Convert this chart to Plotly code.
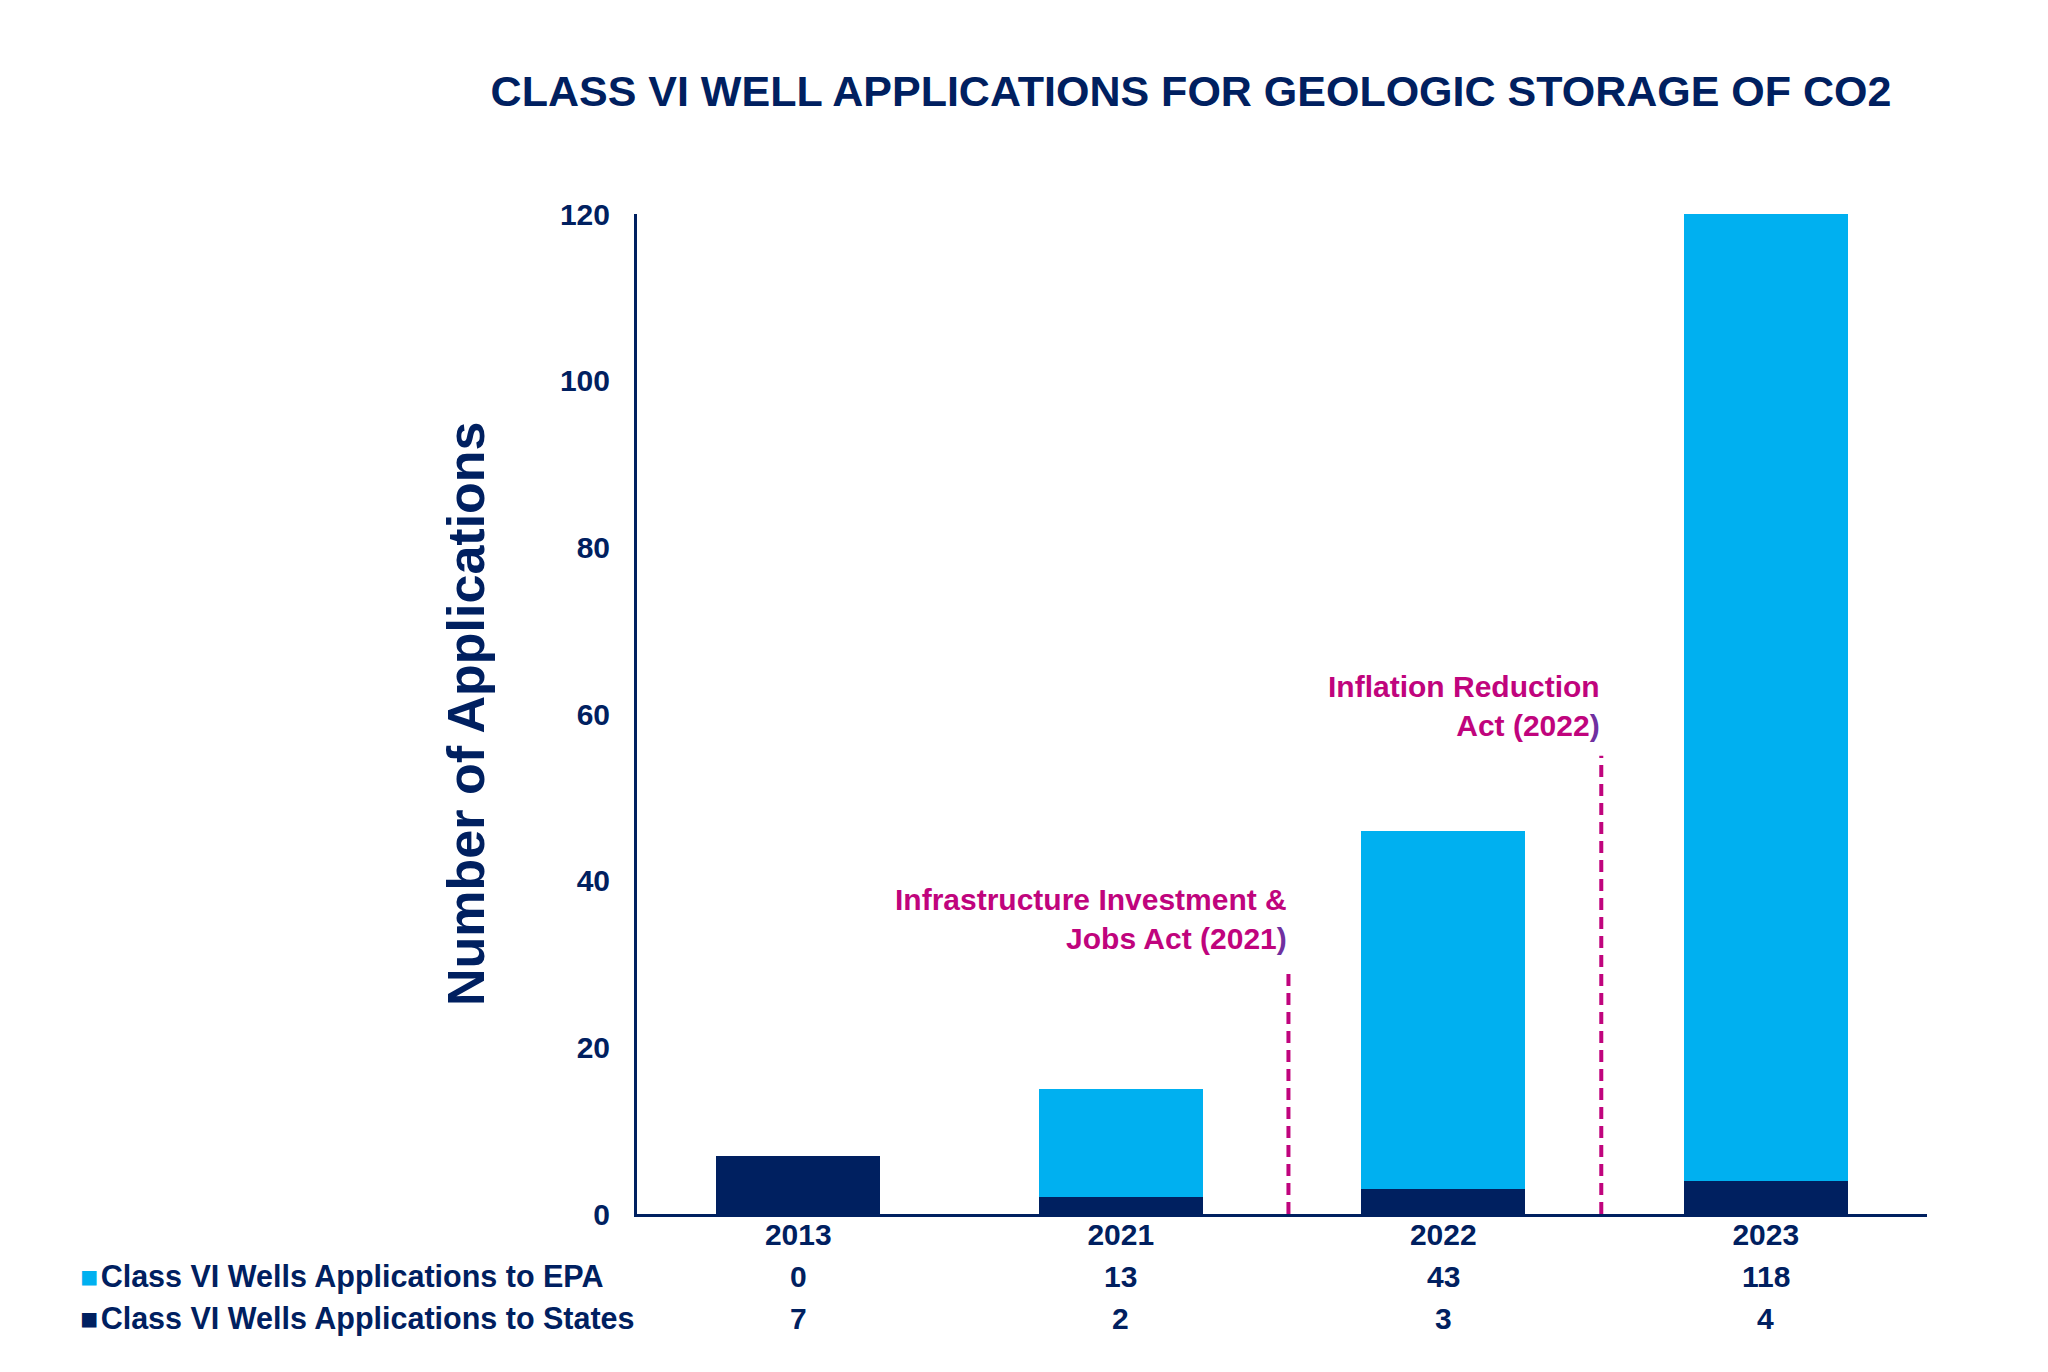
import plotly.graph_objects as go

years = ["2013", "2021", "2022", "2023"]
epa_apps = [0, 13, 43, 118]
state_apps = [7, 2, 3, 4]
series_names = ["Class VI Wells Applications to EPA", "Class VI Wells Applications to States"]
y_ticks = [0, 20, 40, 60, 80, 100, 120]

# policy events: label, line top value, label centre value
event_labels = ["Infrastructure Investment &<br>Jobs Act (2021", "Inflation Reduction<br>Act (2022"]
event_line_top = [29.3, 55]
event_label_y = [35.4, 61]

NAVY = "#002060"
LIGHT = "#00B0F0"
MAGENTA = "#C0047D"
FONT = "Liberation Sans, Arial, sans-serif"

W, H = 2048, 1372
L, R, T, B = 637, 121, 214, 158

# horizontal placement of the event dividers (category-axis units)
event_x = [1.52, 2.49]

fig = go.Figure()
fig.add_bar(x=years, y=state_apps, name=series_names[1], marker_color=NAVY,
            marker_line_width=0, width=0.51)
fig.add_bar(x=years, y=epa_apps, name=series_names[0], marker_color=LIGHT,
            marker_line_width=0, width=0.51)

for xb, top, lab, ly in zip(event_x, event_line_top, event_labels, event_label_y):
    fig.add_shape(type="line", xref="x", yref="y", x0=xb, x1=xb, y0=0, y1=top,
                  line=dict(color=MAGENTA, width=4, dash="12px,7px"))
    fig.add_annotation(xref="x", yref="y", x=xb, y=ly, xanchor="right", yanchor="middle",
                       align="right", showarrow=False, borderpad=0,
                       text=lab + '<span style="color:#7030A0">)</span>',
                       font=dict(family=FONT, size=30, color=MAGENTA, weight="bold"))

pw = W - L - R
ph = H - T - B

def px_x(p):
    return (p - L) / pw

def px_y(p):
    return (H - B - p) / ph

n = len(years)
# data table rows under the axis
rows = [(series_names[0], epa_apps, LIGHT, 1276), (series_names[1], state_apps, NAVY, 1318)]
for name, vals, col, ypix in rows:
    fig.add_annotation(xref="paper", yref="paper", x=px_x(78), y=px_y(ypix),
                       xanchor="left", yanchor="middle", showarrow=False,
                       text=(f'<span style="color:{col};font-size:30px">■</span>'
                             f'<span style="font-size:9px"> </span>{name}'),
                       font=dict(family=FONT, size=30.5, color=NAVY, weight="bold"))
    for i, v in enumerate(vals):
        fig.add_annotation(xref="paper", yref="paper", x=(i + 0.5) / n, y=px_y(ypix),
                           xanchor="center", yanchor="middle", showarrow=False,
                           text=str(v),
                           font=dict(family=FONT, size=30, color=NAVY, weight="bold"))

# y-axis title
fig.add_annotation(xref="paper", yref="paper", x=px_x(466), y=0.5, textangle=-90,
                   xanchor="center", yanchor="middle", showarrow=False,
                   text="Number of Applications",
                   font=dict(family=FONT, size=52, color=NAVY, weight="bold"))

fig.update_layout(
    width=W, height=H,
    margin=dict(l=L, r=R, t=T, b=B),
    paper_bgcolor="white", plot_bgcolor="white",
    barmode="stack",
    showlegend=False,
    title=dict(text="CLASS VI WELL APPLICATIONS FOR GEOLOGIC STORAGE OF CO2",
               x=1191 / W, xanchor="center", y=1 - 91 / H, yanchor="middle",
               font=dict(family=FONT, size=43, color=NAVY, weight="bold")),
    font=dict(family=FONT, color=NAVY),
)
fig.update_xaxes(range=[-0.5, 3.5], showline=True, linecolor=NAVY, linewidth=3,
                 showgrid=False, ticks="", ticklabelstandoff=-8,
                 tickfont=dict(family=FONT, size=30, color=NAVY, weight="bold"))
fig.update_yaxes(range=[0, 120], tickvals=y_ticks, showline=True, linecolor=NAVY, linewidth=3,
                 showgrid=False, zeroline=False, ticks="", ticklabelstandoff=18,
                 tickfont=dict(family=FONT, size=30, color=NAVY, weight="bold"))

fig.write_html("out.html")
